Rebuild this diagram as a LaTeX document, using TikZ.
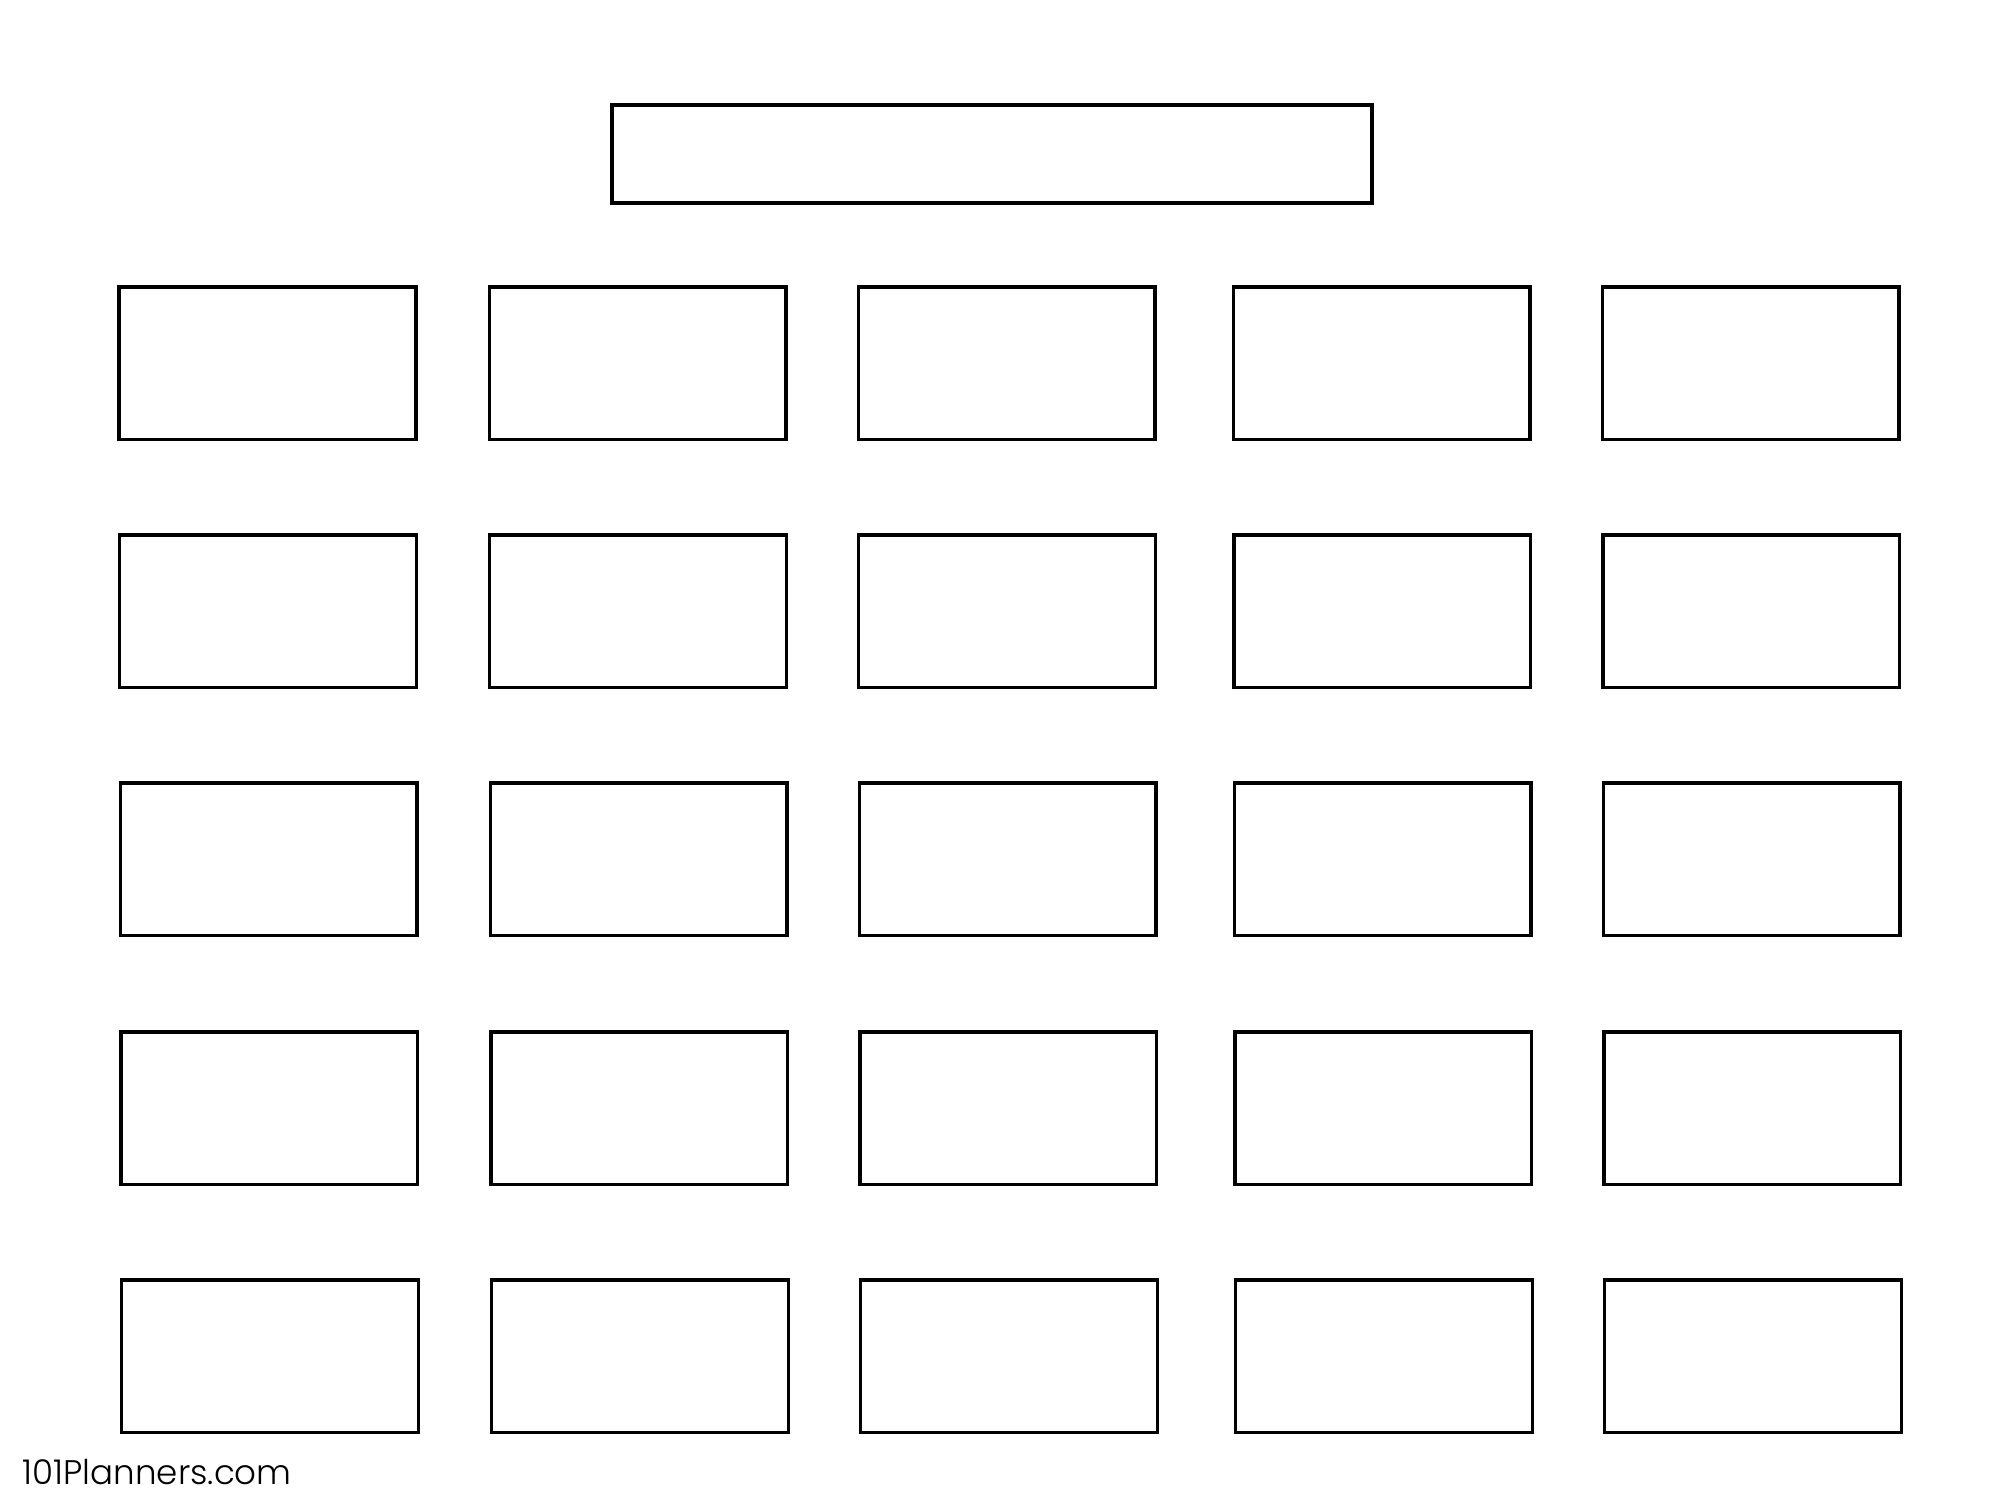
\documentclass[tikz,border=0pt]{standalone}
\usepackage{fontspec}
\newfontfamily\sitefont{Poppins Light}
\begin{document}
\begin{tikzpicture}[x=0.01cm,y=-0.01cm,
  seat/.style={draw=black,line width=0.95pt,fill=white,minimum width=2.965cm,minimum height=1.525cm,inner sep=0pt,outer sep=0pt},
  board/.style={draw=black,line width=1.1pt,fill=white,minimum width=7.6cm,minimum height=0.98cm,inner sep=0pt,outer sep=0pt}]
\useasboundingbox[fill=white] (0,0) rectangle (2000,1500);
\node[board] (teacher) at (992,154) {};
\foreach \r/\t in {1/287,2/535,3/783,4/1032,5/1280}{
  \foreach \c/\l in {1/119,2/489,3/858,4/1233,5/1602}{
    \node[seat] (b-\r-\c) at ({\l+148.5+(\r-1)*0.65},{\t+76.4}) {};
  }
}
\node[anchor=base west,inner sep=0pt,font=\sitefont\fontsize{9.7}{12}\selectfont] (site) at (22,1484) {101Planners.com};
\end{tikzpicture}
\end{document}
